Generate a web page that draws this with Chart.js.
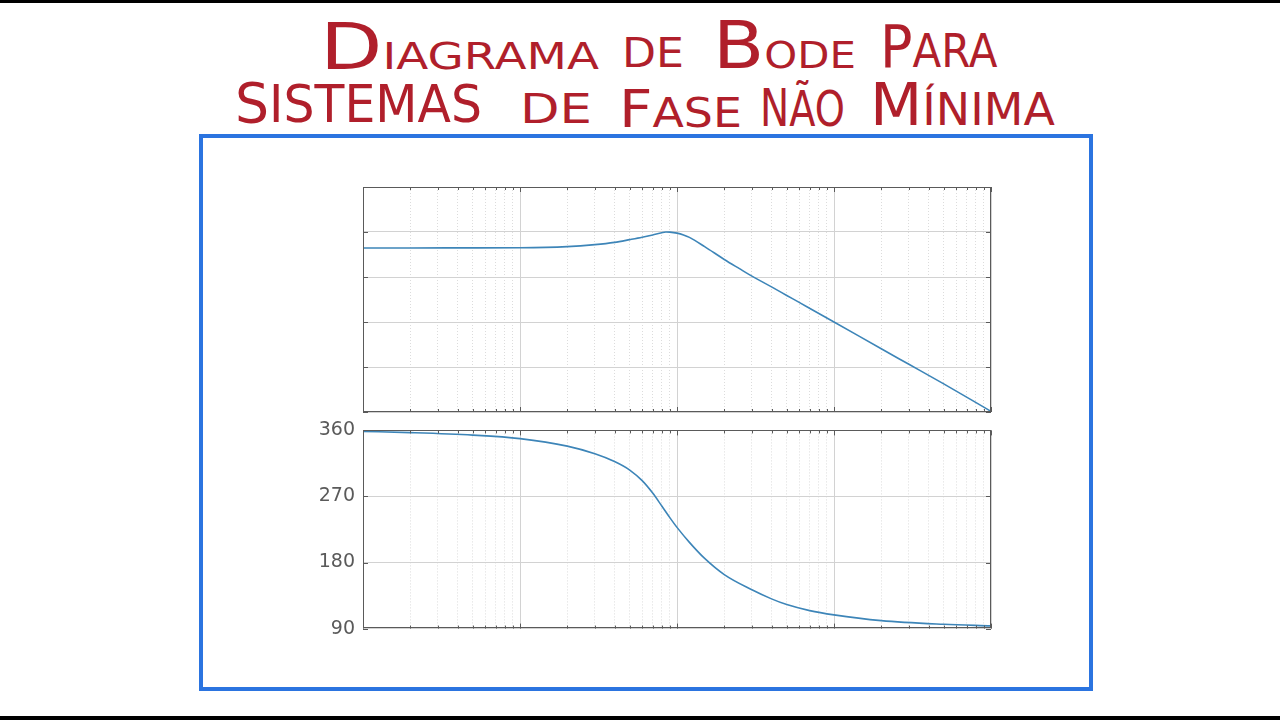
<!DOCTYPE html>
<html>
<head>
<meta charset="utf-8">
<script src="https://cdn.jsdelivr.net/npm/chart.js@4.4.1/dist/chart.umd.min.js"></script>
<style>
  html, body { margin: 0; padding: 0; background: #fff; }
  body { width: 1280px; height: 720px; position: relative; overflow: hidden; }
  .bar { position: absolute; left: 0; width: 1280px; background: #000; }
  #frame { position: absolute; left: 199px; top: 134px; width: 894px; height: 557px;
           box-sizing: border-box; border: 4px solid #2b74e0; }
  #title { position: absolute; left: 0; top: 0; }
  #title text { font-family: "DejaVu Sans", sans-serif; fill: #b01f2b; }
  #title .rest { text-transform: uppercase; }
  canvas { position: absolute; }
  #magChart { left: 300px; top: 177px; }
  #phaseChart { left: 300px; top: 411px; }
</style>
</head>
<body>
<div class="bar" style="top:0;height:3px"></div>
<div class="bar" style="top:716px;height:4px"></div>
<svg id="title" width="1280" height="135" xmlns="http://www.w3.org/2000/svg"></svg>
<div id="frame"></div>
<canvas id="magChart" width="700" height="245"></canvas>
<canvas id="phaseChart" width="700" height="237"></canvas>
<script>
// Bode diagram data (frequency in rad/s)
const MAG_FREQ = [0.01, 0.02, 0.05, 0.1, 0.2, 0.3, 0.4, 0.5, 0.6, 0.7, 0.8, 0.85, 0.9, 1.0, 1.1, 1.2, 1.5, 2, 2.5, 3, 4, 5, 6, 10, 20, 30, 50, 100];
const MAG_DB = [-7.1, -7.1, -7.05, -7.0, -6.5, -5.6, -4.6, -3.4, -2.35, -1.3, -0.3, 0.0, -0.05, -0.5, -1.3, -2.4, -6.5, -12.2, -16.3, -19.6, -24.4, -28.2, -31.3, -40, -51.9, -58.8, -67.5, -79.7];

const PHASE_FREQ = [0.01, 0.02, 0.05, 0.1, 0.2, 0.3, 0.4, 0.5, 0.6, 0.7, 0.8, 0.9, 1.0, 1.2, 1.5, 2, 3, 4, 5, 7, 10, 20, 50, 100];
const PHASE_DEG = [358.6, 357.0, 353.6, 348.8, 338.6, 328.2, 317.6, 306.0, 291.5, 274.6, 257.0, 241.2, 227.9, 207.5, 185.6, 163.6, 142.9, 130.5, 122.7, 114.5, 108.7, 100.9, 95.9, 93.7];

// Tick values
const DECADES = [0.01, 0.1, 1, 10, 100];
const MINOR_STEPS = [2, 3, 4, 5, 6, 7, 8, 9];
const MAG_TICKS = [-80, -60, -40, -20, 0, 20];
const PHASE_TICKS = [90, 180, 270, 360];

// Title words: cap letter + small-caps rest, fitted into their box
const TITLE_WORDS = [
    { cap: 'D', rest: 'iagrama', x: 320, w: 279, y: 69, capSize: 64, restSize: 37 },
    { cap: '', rest: 'de', x: 622, w: 62, y: 67, capSize: 0, restSize: 40 },
    { cap: 'B', rest: 'ode', x: 713, w: 143, y: 68, capSize: 66, restSize: 37 },
    { cap: 'P', rest: 'ara', x: 880, w: 118, y: 67, capSize: 59, restSize: 46 },
    { cap: 'S', rest: 'istemas', x: 235, w: 247, y: 122, capSize: 56, restSize: 51 },
    { cap: '', rest: 'de', x: 520, w: 72, y: 123, capSize: 0, restSize: 41 },
    { cap: 'F', rest: 'ase', x: 619, w: 123, y: 127, capSize: 52, restSize: 41 },
    { cap: 'N', rest: 'ão', x: 760, w: 85, y: 126, capSize: 51, restSize: 50 },
    { cap: 'M', rest: 'ínima', x: 870, w: 185, y: 125, capSize: 58, restSize: 44 }
];

const LINE_COLOR = '#3d85b8';
const FRAME_COLOR = '#5a5a5a';
const MAJOR_GRID = '#d2d2d2';
const MINOR_GRID = '#dcdcdc';

function buildTitle() {
    const svg = document.getElementById('title');
    const ns = 'http://www.w3.org/2000/svg';
    TITLE_WORDS.forEach(word => {
        const text = document.createElementNS(ns, 'text');
        text.setAttribute('x', 0);
        text.setAttribute('y', 0);
        if (word.cap) {
            const cap = document.createElementNS(ns, 'tspan');
            cap.setAttribute('font-size', word.capSize);
            cap.textContent = word.cap;
            text.appendChild(cap);
        }
        const rest = document.createElementNS(ns, 'tspan');
        rest.setAttribute('font-size', word.restSize);
        rest.setAttribute('class', 'rest');
        rest.textContent = word.rest;
        text.appendChild(rest);
        svg.appendChild(text);
        const box = text.getBBox();
        const sx = word.w / box.width;
        text.setAttribute('transform', `translate(${word.x - box.x * sx}, ${word.y}) scale(${sx}, 1)`);
    });
}

function logTicks() {
    const ticks = [];
    DECADES.forEach((d, i) => {
        ticks.push({ value: d, major: true });
        if (i < DECADES.length - 1) {
            MINOR_STEPS.forEach(m => ticks.push({ value: d * m, major: false }));
        }
    });
    return ticks;
}

// Box round the axes with small inward tick marks, like Matlab
const boxFrame = {
    id: 'boxFrame',
    afterDraw(chart) {
        const { ctx, chartArea: a, scales } = chart;
        ctx.save();
        ctx.strokeStyle = FRAME_COLOR;
        ctx.lineWidth = 1;
        ctx.beginPath();
        scales.x.ticks.forEach(t => {
            const px = Math.round(scales.x.getPixelForValue(t.value)) + 0.5;
            const len = t.major ? 5 : 3;
            ctx.moveTo(px, a.bottom);
            ctx.lineTo(px, a.bottom - len);
            ctx.moveTo(px, a.top);
            ctx.lineTo(px, a.top + len);
        });
        scales.y.ticks.forEach(t => {
            const py = Math.round(scales.y.getPixelForValue(t.value)) + 0.5;
            ctx.moveTo(a.left, py);
            ctx.lineTo(a.left + 5, py);
            ctx.moveTo(a.right, py);
            ctx.lineTo(a.right - 5, py);
        });
        ctx.stroke();
        ctx.strokeRect(Math.round(a.left) + 0.5, Math.round(a.top) + 0.5,
            Math.round(a.width) - 1, Math.round(a.height) - 1);
        ctx.restore();
    }
};

function createBodeChart(id, freq, values, yTicks, showLabels, padding) {
    const ctx = document.getElementById(id).getContext('2d');
    return new Chart(ctx, {
        type: 'line',
        data: {
            datasets: [{
                data: freq.map((f, i) => ({ x: f, y: values[i] })),
                borderColor: LINE_COLOR,
                borderWidth: 1.6,
                pointRadius: 0,
                cubicInterpolationMode: 'monotone',
                fill: false,
                xAxisID: 'x',
                yAxisID: 'y'
            }]
        },
        options: {
            responsive: false,
            animation: false,
            devicePixelRatio: 1,
            layout: { padding: padding, autoPadding: false },
            plugins: {
                legend: { display: false },
                tooltip: { enabled: false },
                title: { display: false }
            },
            scales: {
                x: {
                    type: 'logarithmic',
                    position: 'bottom',
                    min: 0.01,
                    max: 100,
                    afterBuildTicks: scale => { scale.ticks = logTicks(); },
                    afterFit: scale => { scale.height = 0; },
                    ticks: { display: false },
                    grid: { color: MINOR_GRID, drawTicks: false, lineWidth: 1 },
                    border: { display: false, dash: [1, 2] }
                },
                xMajor: {
                    type: 'logarithmic',
                    position: 'bottom',
                    min: 0.01,
                    max: 100,
                    afterBuildTicks: scale => { scale.ticks = DECADES.map(v => ({ value: v })); },
                    afterFit: scale => { scale.height = 0; },
                    ticks: { display: false },
                    grid: { color: MAJOR_GRID, drawTicks: false, lineWidth: 1 },
                    border: { display: false }
                },
                y: {
                    type: 'linear',
                    min: yTicks[0],
                    max: yTicks[yTicks.length - 1],
                    afterBuildTicks: scale => { scale.ticks = yTicks.map(v => ({ value: v })); },
                    afterFit: scale => { scale.width = 63; },
                    ticks: {
                        display: showLabels,
                        padding: 8,
                        color: '#5a5a5a',
                        font: { family: 'DejaVu Sans', size: 19 }
                    },
                    grid: { color: MAJOR_GRID, drawTicks: false, lineWidth: 1 },
                    border: { display: false }
                }
            }
        },
        plugins: [boxFrame]
    });
}

buildTitle();
createBodeChart('magChart', MAG_FREQ, MAG_DB, MAG_TICKS, false, { left: 0, right: 9, top: 10, bottom: 10 });
createBodeChart('phaseChart', PHASE_FREQ, PHASE_DEG, PHASE_TICKS, true, { left: 0, right: 9, top: 14, bottom: 14 });
</script>
</body>
</html>
